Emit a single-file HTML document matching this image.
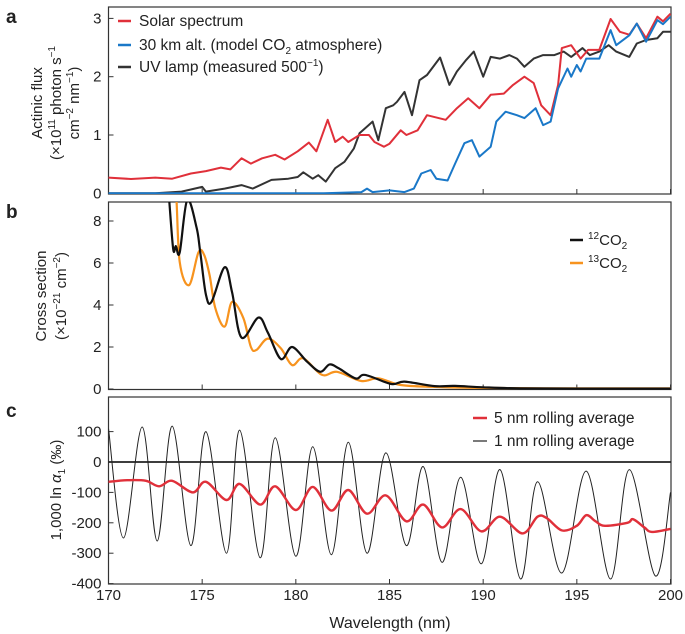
<!DOCTYPE html>
<html><head><meta charset="utf-8"><style>
html,body{margin:0;padding:0;background:#fff;}
svg{display:block;font-family:"Liberation Sans",sans-serif;}
text{fill:#222;}
</style></head><body>
<svg id="chart" width="685" height="634" viewBox="0 0 685 634" xmlns="http://www.w3.org/2000/svg">
<g id="frames"></g>
<g id="marks"></g>
<g id="labels"></g>
</svg>
<script>
// ---------- data ----------
const xTicks = [170,175,180,185,190,195,200];
const aTicks = [0,1,2,3];
const bTicks = [0,2,4,6,8];
const cTicks = [100,0,-100,-200,-300,-400];

const solarNm = [170,171.2,172.5,173.4,174.4,175.2,176,176.5,177.1,177.6,178.2,178.9,179.4,180.1,180.7,181.1,181.7,182.1,182.5,182.8,183.4,183.9,184.2,184.7,185.0,185.6,185.9,186.5,187,188,188.6,189.2,189.8,190.4,191.1,191.6,192.2,192.7,193.1,193.6,194,194.2,194.7,195.2,195.6,196.2,196.8,197.3,197.8,198.2,198.7,199.3,199.6,200];
const solarVal = [0.27,0.245,0.27,0.25,0.34,0.38,0.44,0.41,0.6,0.51,0.6,0.66,0.58,0.72,0.87,0.72,1.26,0.88,0.97,0.88,1.0,1.0,0.88,0.8,0.85,1.08,1.0,1.08,1.34,1.26,1.46,1.63,1.46,1.69,1.71,1.86,2.0,1.89,1.51,1.34,1.86,2.49,2.54,2.31,2.46,2.46,2.99,2.77,2.72,2.91,2.66,3.03,2.95,3.08];

const altNm = [170,181.5,183.5,183.8,184.1,185.0,185.8,186.3,186.7,187.2,187.5,188.1,188.5,189.0,189.4,189.8,190.4,190.7,191.2,191.8,192.2,192.8,193.2,193.6,194,194.5,194.7,195,195.2,195.5,196.2,196.8,197.1,197.8,198.2,198.7,199.3,199.6,200];
const altVal = [0,0,0.02,0.08,0.02,0.05,0.02,0.08,0.34,0.4,0.25,0.22,0.51,0.86,0.91,0.63,0.8,1.23,1.4,1.34,1.29,1.46,1.17,1.23,1.8,2.14,2.0,2.2,2.09,2.31,2.31,2.8,2.54,2.71,2.91,2.6,2.97,2.9,3.03];

const lampNm = [170,172.5,173.9,175.0,175.2,176.2,177.1,177.7,178.7,179.6,180.1,180.4,180.9,181.2,181.6,182.1,182.6,183.1,183.4,184.1,184.4,184.8,185.2,185.4,185.8,186.2,186.6,187,187.4,187.7,188.2,188.6,189.1,189.5,190,190.4,190.9,191.4,191.8,192.2,192.7,193.2,193.8,194.3,194.7,195.3,195.7,196.2,196.7,197.1,197.8,198.2,198.7,199.3,199.6,200];
const lampVal = [0,0,0.03,0.11,0.03,0.08,0.14,0.08,0.23,0.25,0.28,0.36,0.25,0.31,0.2,0.43,0.54,0.77,1.03,1.23,0.91,1.46,1.51,1.57,1.74,1.34,1.94,2.03,2.2,2.33,1.86,2.09,2.29,2.43,2.0,2.34,2.31,2.37,2.31,2.17,2.31,2.37,2.37,2.43,2.34,2.49,2.37,2.43,2.54,2.43,2.34,2.57,2.63,2.66,2.77,2.77];

const c12Nm = [173.0,173.2,173.45,173.6,173.8,174.2,174.7,174.9,175.2,175.5,176.2,176.6,177.1,178.0,178.5,179.2,179.8,180.6,181.3,181.8,182.3,183.2,183.7,185.1,185.8,187.4,188.5,190,192,195,200];
const c12Val = [12,9.5,6.7,6.8,6.5,9.0,7.7,6.5,4.5,4.15,5.8,4.6,2.45,3.4,2.7,1.43,2.0,1.3,0.82,1.17,0.98,0.5,0.67,0.24,0.35,0.14,0.15,0.08,0.03,0.02,0.02];
const c13Nm = [173.3,173.6,173.8,174.3,174.8,175.1,175.4,175.7,176.2,176.6,177.2,177.6,177.9,178.5,179.2,179.8,180.4,181.4,182.2,183.5,184.4,185.6,187.4,190,195,200];
const c13Val = [12,9.5,6.05,4.95,6.5,6.4,5.4,3.85,2.97,4.15,3.37,2.0,1.86,2.4,1.94,1.14,1.46,0.67,0.82,0.38,0.51,0.19,0.1,0.05,0.03,0.03];

const oneNm = [170,170.8,171.8,172.6,173.4,174.4,175.2,176.3,177,178.1,178.9,180,180.9,181.9,182.8,183.8,184.8,185.9,186.8,187.8,188.8,189.9,190.9,192,192.9,194.2,195.5,196.8,197.8,199.2,200];
const oneVal = [110,-250,115,-260,118,-275,100,-300,105,-315,80,-310,50,-305,65,-300,30,-275,-15,-330,-50,-335,-25,-385,-65,-365,-30,-385,-25,-375,-100];
const fiveNm = [170,171,172,172.7,173.4,174.5,175.2,176.3,177,178.1,178.9,180,180.9,181.9,182.8,183.8,184.8,185.9,186.8,187.8,188.8,189.9,190.9,192.1,192.9,193.4,194.2,195,195.5,196,196.5,197.7,198,198.6,199,200];
const fiveVal = [-65,-60,-62,-80,-62,-100,-65,-125,-72,-140,-80,-158,-82,-160,-92,-170,-110,-195,-140,-215,-155,-228,-180,-235,-180,-185,-225,-210,-175,-195,-210,-200,-188,-215,-230,-220];

// ---------- scales ----------
const X0=108.5, X1=670.5, R=671;
const xs = nm => X0 + (nm-170)*(X1-X0)/30;
const ya = v => 193.3 - v*58.3;
const yb = v => 389 - v*21;
const yc = v => 462 - v*0.304;
const NS="http://www.w3.org/2000/svg";
function mk(tag, attrs, parent){const e=document.createElementNS(NS,tag);for(const k in attrs)e.setAttribute(k,attrs[k]);document.getElementById(parent).appendChild(e);return e;}
function linePath(xsArr, ysArr, fx, fy){return xsArr.map((n,i)=>(i?'L':'M')+fx(n).toFixed(1)+' '+fy(ysArr[i]).toFixed(1)).join(' ');}
function smoothPath(xsArr, ysArr, fx, fy){
  const p=xsArr.map((n,i)=>[fx(n),fy(ysArr[i])]);
  let d='M'+p[0][0].toFixed(1)+' '+p[0][1].toFixed(1);
  for(let i=0;i<p.length-1;i++){
    const p0=p[Math.max(0,i-1)],p1=p[i],p2=p[i+1],p3=p[Math.min(p.length-1,i+2)];
    const c1=[p1[0]+(p2[0]-p0[0])/6,p1[1]+(p2[1]-p0[1])/6];
    const c2=[p2[0]-(p3[0]-p1[0])/6,p2[1]-(p3[1]-p1[1])/6];
    d+=` C${c1[0].toFixed(1)} ${c1[1].toFixed(1)} ${c2[0].toFixed(1)} ${c2[1].toFixed(1)} ${p2[0].toFixed(1)} ${p2[1].toFixed(1)}`;
  }
  return d;
}
// clip paths
const defs=mk('defs',{},'marks');
[['clipA',7,187],['clipB',202,188],['clipC',397,187]].forEach(([id,y,h])=>{
  const cp=document.createElementNS(NS,'clipPath');cp.setAttribute('id',id);
  const r=document.createElementNS(NS,'rect');r.setAttribute('x',X0);r.setAttribute('y',y);r.setAttribute('width',R-X0);r.setAttribute('height',h);
  cp.appendChild(r);defs.appendChild(cp);
});

// frames
const panels=[['panel-a-frame',7,194],['panel-b-frame',202,389.5],['panel-c-frame',397,584]];
panels.forEach(([nm,t,b])=>{
  const r=mk('rect',{x:X0,y:t,width:R-X0,height:b-t,fill:'none',stroke:'#333','stroke-width':1.2},'frames');
  
  
  xTicks.forEach(v=>{ const t2=mk('line',{x1:xs(v),x2:xs(v),y1:b,y2:b-5,stroke:'#333','stroke-width':1},'frames');
    
     });
});
function yTicks(arr, fy, nm){
  arr.forEach(v=>{
    const l=mk('line',{x1:X0,x2:X0+5,y1:fy(v),y2:fy(v),stroke:'#333','stroke-width':1},'frames');
    
    
    const t=mk('text',{x:X0-7,y:fy(v)+5,'text-anchor':'end','font-size':15},'labels');
    t.textContent = (v<0?'-':'')+Math.abs(v);
    
    
  });
}
yTicks(aTicks, ya, 'panel-a-y');
yTicks(bTicks, yb, 'panel-b-y');
yTicks(cTicks, yc, 'panel-c-y');
xTicks.forEach(v=>{
  const t=mk('text',{x:xs(v),y:600,'text-anchor':'middle','font-size':15},'labels');
  t.textContent=v;
  
  
});

// panel a series
const gA=mk('g',{'clip-path':'url(#clipA)',fill:'none','stroke-width':2,'stroke-linejoin':'round'},'marks');


let p;
p=document.createElementNS(NS,'path');p.setAttribute('d',linePath(lampNm,lampVal,xs,ya));p.setAttribute('stroke','#333');gA.appendChild(p);


p=document.createElementNS(NS,'path');p.setAttribute('d',linePath(solarNm,solarVal,xs,ya));p.setAttribute('stroke','#e0303a');gA.appendChild(p);


p=document.createElementNS(NS,'path');p.setAttribute('d',linePath(altNm,altVal,xs,ya));p.setAttribute('stroke','#1a78c8');gA.appendChild(p);



// panel b
const gB=mk('g',{'clip-path':'url(#clipB)',fill:'none','stroke-width':2.2,'stroke-linejoin':'round'},'marks');


p=document.createElementNS(NS,'path');p.setAttribute('d',smoothPath(c13Nm,c13Val,xs,yb));p.setAttribute('stroke','#f7931e');gB.appendChild(p);


p=document.createElementNS(NS,'path');p.setAttribute('d',smoothPath(c12Nm,c12Val,xs,yb));p.setAttribute('stroke','#111');gB.appendChild(p);



// panel c
const gC=mk('g',{'clip-path':'url(#clipC)',fill:'none','stroke-linejoin':'round'},'marks');


p=document.createElementNS(NS,'line');p.setAttribute('x1',X0);p.setAttribute('x2',R);p.setAttribute('y1',yc(0));p.setAttribute('y2',yc(0));p.setAttribute('stroke','#222');p.setAttribute('stroke-width',1.8);gC.appendChild(p);


p=document.createElementNS(NS,'path');p.setAttribute('d',smoothPath(oneNm,oneVal,xs,yc));p.setAttribute('stroke','#222');p.setAttribute('stroke-width',1);gC.appendChild(p);


p=document.createElementNS(NS,'path');p.setAttribute('d',smoothPath(fiveNm,fiveVal,xs,yc));p.setAttribute('stroke','#e0303a');p.setAttribute('stroke-width',2.4);gC.appendChild(p);


</script>
<svg width="0" height="0" style="position:absolute;left:0;top:0;overflow:visible">
</svg>
<div style="position:absolute;left:0;top:0;width:685px;height:634px;pointer-events:none;">
<svg width="685" height="634" style="font-family:'Liberation Sans',sans-serif;">
  <text x="6" y="23" font-size="19" font-weight="bold" fill="#000">a</text>
  <text x="6" y="218" font-size="19" font-weight="bold" fill="#000">b</text>
  <text x="6" y="417" font-size="19" font-weight="bold" fill="#000">c</text>
  <g font-size="15" fill="#222" text-anchor="middle">
    <text transform="translate(42,103) rotate(-90)">Actinic flux</text>
    <text transform="translate(61,103) rotate(-90)">(×10<tspan font-size="10" dy="-6">11</tspan><tspan dy="6"> photon s</tspan><tspan font-size="10" dy="-6">−1</tspan></text>
    <text transform="translate(79,103) rotate(-90)">cm<tspan font-size="10" dy="-6">−2</tspan><tspan dy="6"> nm</tspan><tspan font-size="10" dy="-6">−1</tspan><tspan dy="6">)</tspan></text>
  </g>
  <g font-size="15" fill="#222" text-anchor="middle">
    <text transform="translate(46,296) rotate(-90)">Cross section</text>
    <text transform="translate(66,296) rotate(-90)">(×10<tspan font-size="10" dy="-6">−21</tspan><tspan dy="6"> cm</tspan><tspan font-size="10" dy="-6">−2</tspan><tspan dy="6">)</tspan></text>
  </g>
  <text transform="translate(61,490) rotate(-90)" font-size="15" fill="#222" text-anchor="middle">1,000 ln <tspan font-style="italic">α</tspan><tspan font-size="10" dy="4">1</tspan><tspan dy="-4"> (‰)</tspan></text>
  <text x="390" y="628" font-size="16" fill="#222" text-anchor="middle">Wavelength (nm)</text>

  <g font-size="15.5" fill="#222">
    <line x1="118" x2="131" y1="21" y2="21" stroke="#e0303a" stroke-width="2.5"/>
    <text x="139" y="26">Solar spectrum</text>
    <line x1="118" x2="131" y1="45" y2="45" stroke="#1a78c8" stroke-width="2.5"/>
    <text x="139" y="50">30 km alt. (model CO<tspan font-size="10" dy="4">2</tspan><tspan dy="-4"> atmosphere)</tspan></text>
    <line x1="118" x2="131" y1="67" y2="67" stroke="#333" stroke-width="2.5"/>
    <text x="139" y="72">UV lamp (measured 500<tspan font-size="10" dy="-6">−1</tspan><tspan dy="6">)</tspan></text>
  </g>
  <g font-size="15" fill="#222">
    <line x1="570" x2="583" y1="240" y2="240" stroke="#111" stroke-width="2.5"/>
    <text x="588" y="245"><tspan font-size="10" dy="-6">12</tspan><tspan dy="6">CO</tspan><tspan font-size="10" dy="4">2</tspan></text>
    <line x1="570" x2="583" y1="263" y2="263" stroke="#f7931e" stroke-width="2.5"/>
    <text x="588" y="268"><tspan font-size="10" dy="-6">13</tspan><tspan dy="6">CO</tspan><tspan font-size="10" dy="4">2</tspan></text>
  </g>
  <g font-size="15.5" fill="#222">
    <line x1="473" x2="487" y1="418" y2="418" stroke="#e0303a" stroke-width="2.5"/>
    <text x="494" y="423">5 nm rolling average</text>
    <line x1="473" x2="487" y1="441" y2="441" stroke="#222" stroke-width="1.2"/>
    <text x="494" y="446">1 nm rolling average</text>
  </g>
</svg>
</div>
</body></html>
